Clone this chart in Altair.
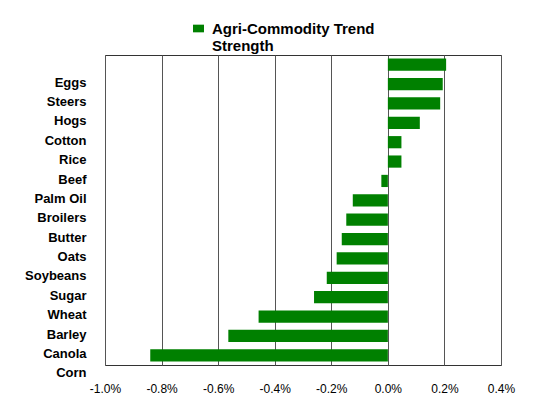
import pandas as pd
import altair as alt

commodities = [
    "Eggs", "Steers", "Hogs", "Cotton", "Rice", "Beef", "Palm Oil", "Broilers",
    "Butter", "Oats", "Soybeans", "Sugar", "Wheat", "Barley", "Canola", "Corn",
]
trend_pct = [
    0.206, 0.194, 0.185, 0.113, 0.048, 0.048, -0.023, -0.124,
    -0.147, -0.163, -0.181, -0.216, -0.261, -0.457, -0.564, -0.840,
]
x_ticks = [-1.0, -0.8, -0.6, -0.4, -0.2, 0.0, 0.2, 0.4]
series_name = "Agri-Commodity Trend Strength"

df = pd.DataFrame({
    "commodity": commodities,
    "trend": [v / 100 for v in trend_pct],
    "series": series_name,
})

GREEN = "#008000"

bars = alt.Chart(df).mark_bar(color=GREEN).encode(
    x=alt.X(
        "trend:Q",
        scale=alt.Scale(domain=[-0.01, 0.004], nice=False, zero=False),
        axis=alt.Axis(
            values=[t / 100 for t in x_ticks], format=".1%", title=None,
            ticks=False, domain=False, labelPadding=18, labelFontSize=12,
            labelColor="#000", grid=True, gridColor="#555", gridOpacity=1,
            labelFont="Liberation Sans", labelFlush=False,
            labelExpr="replace(datum.label, '\u2212', '-')",
        ),
    ),
    y=alt.Y(
        "commodity:N", sort=None,
        scale=alt.Scale(paddingInner=0.37, paddingOuter=0.185),
        axis=alt.Axis(
            title=None, ticks=False, domain=False, labelOffset=18,
            labelPadding=19, labelFontSize=13, labelFontWeight="bold",
            labelColor="#000", labelFont="Liberation Sans",
        ),
    ),
    color=alt.Color(
        "series:N",
        scale=alt.Scale(range=[GREEN]),
        legend=alt.Legend(
            title=None, orient="none", legendX=86, legendY=-34,
            symbolType="M-1,-0.7H1V0.7H-1Z", symbolSize=120, symbolStrokeWidth=0,
            symbolOffset=0, labelOffset=6,
            labelFontSize=15, labelFontWeight="bold", labelFont="Liberation Sans",
            labelColor="#000", labelLimit=300,
            labelExpr="['Agri-Commodity Trend', 'Strength']",
        ),
    ),
)

chart = bars.properties(
    width=396, height=310,
    padding={"left": 97, "top": 47, "right": 28, "bottom": 32},
    autosize=alt.AutoSizeParams(type="none"),
).configure_view(stroke="#333", strokeWidth=1)

chart.save("out.html", embed_options={"renderer": "svg", "actions": False})
